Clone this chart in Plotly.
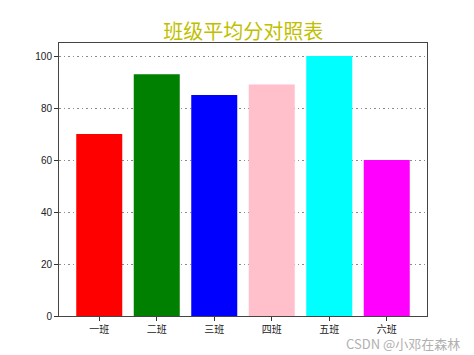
import plotly.graph_objects as go

classes = ["一班", "二班", "三班", "四班", "五班", "六班"]
scores = [70, 93, 85, 89, 100, 60]
colors = ["#ff0000", "#008000", "#0000ff", "#ffc0cb", "#00ffff", "#ff00ff"]
y_ticks = [0, 20, 40, 60, 80, 100]

fig = go.Figure()
fig.add_trace(go.Bar(
    x=list(range(len(classes))), y=scores, width=0.8,
    marker=dict(color=colors, line=dict(width=0)),
))

axis_font = dict(family="Liberation Sans, Noto Sans CJK SC", size=10, color="#222")
fig.update_layout(
    width=474, height=355,
    margin=dict(l=59, r=47, t=43, b=39),
    paper_bgcolor="white", plot_bgcolor="white",
    showlegend=False,
    title=dict(text="班级平均分对照表", x=0.513, xanchor="center", y=0.91, yanchor="middle",
               font=dict(family="Noto Sans CJK SC", size=20, color="#bfbf00")),
    xaxis=dict(range=[-0.7, 5.7], tickmode="array", tickvals=list(range(len(classes))),
               ticktext=classes, ticks="outside", ticklen=4, tickcolor="#333",
               showgrid=False, zeroline=False, showline=True, linecolor="#444",
               linewidth=1, mirror=True, tickfont=axis_font),
    yaxis=dict(range=[0, 105], tickmode="array", tickvals=y_ticks, ticks="outside",
               ticklen=4, tickcolor="#333", showgrid=True, gridcolor="#8a8a8a",
               griddash="1.5px,3px", gridwidth=1, zeroline=False, showline=True,
               linecolor="#444", linewidth=1, mirror=True, tickfont=axis_font),
    annotations=[dict(text="CSDN @小邓在森林", showarrow=False, xref="paper", yref="paper",
                      x=(462 - 59) / (474 - 59 - 47), xanchor="right",
                      y=-(343 - 316) / (316 - 43), yanchor="middle",
                      font=dict(family="Noto Sans CJK SC", size=13, color="#b0b0b0"))],
)
fig.write_html("out.html")
